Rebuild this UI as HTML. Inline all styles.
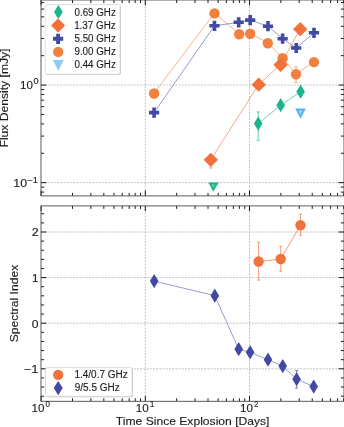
<!DOCTYPE html><html><head><meta charset="utf-8"><style>html,body{margin:0;padding:0;background:#fff;}svg{display:block;will-change:transform;}</style></head><body><svg width="344" height="427" viewBox="0 0 344 427">
<rect width="344" height="427" fill="#fff"/>
<line x1="145.30" y1="0.00" x2="145.30" y2="195.90" stroke="#b0b0b0" stroke-width="0.8" stroke-dasharray="1.9 1.3"/>
<line x1="249.50" y1="0.00" x2="249.50" y2="195.90" stroke="#b0b0b0" stroke-width="0.8" stroke-dasharray="1.9 1.3"/>
<line x1="41.00" y1="85.05" x2="344.00" y2="85.05" stroke="#b0b0b0" stroke-width="0.8" stroke-dasharray="1.9 1.3"/>
<line x1="41.00" y1="182.65" x2="344.00" y2="182.65" stroke="#b0b0b0" stroke-width="0.8" stroke-dasharray="1.9 1.3"/>
<path d="M258.20 123.60L280.70 105.20L300.60 91.70" fill="none" stroke="#1cb48a" stroke-width="1.0" stroke-opacity="0.6"/>
<line x1="258.20" y1="111.90" x2="258.20" y2="140.40" stroke="#1cb48a" stroke-width="0.9" stroke-opacity="0.75"/>
<line x1="256.60" y1="111.90" x2="259.80" y2="111.90" stroke="#1cb48a" stroke-width="0.9" stroke-opacity="0.75"/>
<line x1="256.60" y1="140.40" x2="259.80" y2="140.40" stroke="#1cb48a" stroke-width="0.9" stroke-opacity="0.75"/>
<path d="M258.20 116.50L262.50 123.60L258.20 130.70L253.90 123.60Z" fill="#1cb48a" fill-opacity="1.0"/>
<path d="M280.70 98.10L285.00 105.20L280.70 112.30L276.40 105.20Z" fill="#1cb48a" fill-opacity="1.0"/>
<path d="M300.60 84.60L304.90 91.70L300.60 98.80L296.30 91.70Z" fill="#1cb48a" fill-opacity="1.0"/>
<path d="M208.20 182.40H218.60L213.40 191.70Z" fill="#22b486"/>
<path d="M211.61 184.40H215.19L213.40 187.60Z" fill="#6fcfaa"/>
<path d="M154.10 93.20L214.50 13.10L239.20 34.00L250.20 33.50L267.80 42.90L282.60 58.00L296.00 74.00L314.00 61.80" fill="none" stroke="#f2803e" stroke-width="1.0" stroke-opacity="0.6"/>
<line x1="296.00" y1="67.00" x2="296.00" y2="82.40" stroke="#f2803e" stroke-width="0.9" stroke-opacity="0.75"/>
<line x1="294.40" y1="67.00" x2="297.60" y2="67.00" stroke="#f2803e" stroke-width="0.9" stroke-opacity="0.75"/>
<line x1="294.40" y1="82.40" x2="297.60" y2="82.40" stroke="#f2803e" stroke-width="0.9" stroke-opacity="0.75"/>
<circle cx="154.10" cy="93.50" r="5.2" fill="#f2803e" fill-opacity="1.0"/>
<circle cx="214.50" cy="13.40" r="5.2" fill="#f2803e" fill-opacity="1.0"/>
<circle cx="239.20" cy="34.30" r="5.2" fill="#f2803e" fill-opacity="1.0"/>
<circle cx="250.20" cy="33.80" r="5.2" fill="#f2803e" fill-opacity="1.0"/>
<circle cx="267.80" cy="43.20" r="5.2" fill="#f2803e" fill-opacity="1.0"/>
<circle cx="282.60" cy="58.30" r="5.2" fill="#f2803e" fill-opacity="1.0"/>
<circle cx="296.00" cy="74.30" r="5.2" fill="#f2803e" fill-opacity="1.0"/>
<circle cx="314.00" cy="62.10" r="5.2" fill="#f2803e" fill-opacity="1.0"/>
<path d="M210.80 159.70L258.70 84.50L280.60 64.60L300.20 29.00" fill="none" stroke="#f2703a" stroke-width="1.0" stroke-opacity="0.6"/>
<line x1="210.80" y1="159.70" x2="210.80" y2="168.00" stroke="#f2703a" stroke-width="0.9" stroke-opacity="0.75"/>
<line x1="209.20" y1="159.70" x2="212.40" y2="159.70" stroke="#f2703a" stroke-width="0.9" stroke-opacity="0.75"/>
<line x1="209.20" y1="168.00" x2="212.40" y2="168.00" stroke="#f2703a" stroke-width="0.9" stroke-opacity="0.75"/>
<path d="M210.80 152.65L218.00 159.85L210.80 167.05L203.60 159.85Z" fill="#f2703a" fill-opacity="1.0"/>
<path d="M258.70 77.45L265.90 84.65L258.70 91.85L251.50 84.65Z" fill="#f2703a" fill-opacity="1.0"/>
<path d="M280.60 57.55L287.80 64.75L280.60 71.95L273.40 64.75Z" fill="#f2703a" fill-opacity="1.0"/>
<path d="M300.20 21.95L307.40 29.15L300.20 36.35L293.00 29.15Z" fill="#f2703a" fill-opacity="1.0"/>
<path d="M154.10 112.60L214.50 25.80L238.70 22.30L250.20 20.10L268.00 26.20L282.60 38.70L296.20 48.00L314.00 32.80" fill="none" stroke="#4249a3" stroke-width="1.0" stroke-opacity="0.55"/>
<path d="M152.30 107.50H155.90V110.80H159.20V114.40H155.90V117.70H152.30V114.40H149.00V110.80H152.30Z" fill="#4249a3" fill-opacity="1.0"/>
<path d="M212.70 20.70H216.30V24.00H219.60V27.60H216.30V30.90H212.70V27.60H209.40V24.00H212.70Z" fill="#4249a3" fill-opacity="1.0"/>
<path d="M236.90 17.20H240.50V20.50H243.80V24.10H240.50V27.40H236.90V24.10H233.60V20.50H236.90Z" fill="#4249a3" fill-opacity="1.0"/>
<path d="M248.40 15.00H252.00V18.30H255.30V21.90H252.00V25.20H248.40V21.90H245.10V18.30H248.40Z" fill="#4249a3" fill-opacity="1.0"/>
<path d="M266.20 21.10H269.80V24.40H273.10V28.00H269.80V31.30H266.20V28.00H262.90V24.40H266.20Z" fill="#4249a3" fill-opacity="1.0"/>
<path d="M280.80 33.60H284.40V36.90H287.70V40.50H284.40V43.80H280.80V40.50H277.50V36.90H280.80Z" fill="#4249a3" fill-opacity="1.0"/>
<path d="M294.40 42.90H298.00V46.20H301.30V49.80H298.00V53.10H294.40V49.80H291.10V46.20H294.40Z" fill="#4249a3" fill-opacity="1.0"/>
<path d="M312.20 27.70H315.80V31.00H319.10V34.60H315.80V37.90H312.20V34.60H308.90V31.00H312.20Z" fill="#4249a3" fill-opacity="1.0"/>
<path d="M295.25 108.40H305.85L300.55 118.80Z" fill="#52b4ea"/>
<path d="M298.51 110.40H302.59L300.55 114.40Z" fill="#a2d6f4"/>
<line x1="41.10" y1="195.90" x2="41.10" y2="190.60" stroke="#000" stroke-width="0.9" />
<line x1="41.10" y1="0.00" x2="41.10" y2="5.30" stroke="#000" stroke-width="0.9" />
<line x1="72.47" y1="195.90" x2="72.47" y2="192.90" stroke="#000" stroke-width="0.9" />
<line x1="72.47" y1="0.00" x2="72.47" y2="3.00" stroke="#000" stroke-width="0.9" />
<line x1="90.82" y1="195.90" x2="90.82" y2="192.90" stroke="#000" stroke-width="0.9" />
<line x1="90.82" y1="0.00" x2="90.82" y2="3.00" stroke="#000" stroke-width="0.9" />
<line x1="103.83" y1="195.90" x2="103.83" y2="192.90" stroke="#000" stroke-width="0.9" />
<line x1="103.83" y1="0.00" x2="103.83" y2="3.00" stroke="#000" stroke-width="0.9" />
<line x1="113.93" y1="195.90" x2="113.93" y2="192.90" stroke="#000" stroke-width="0.9" />
<line x1="113.93" y1="0.00" x2="113.93" y2="3.00" stroke="#000" stroke-width="0.9" />
<line x1="122.18" y1="195.90" x2="122.18" y2="192.90" stroke="#000" stroke-width="0.9" />
<line x1="122.18" y1="0.00" x2="122.18" y2="3.00" stroke="#000" stroke-width="0.9" />
<line x1="129.16" y1="195.90" x2="129.16" y2="192.90" stroke="#000" stroke-width="0.9" />
<line x1="129.16" y1="0.00" x2="129.16" y2="3.00" stroke="#000" stroke-width="0.9" />
<line x1="135.20" y1="195.90" x2="135.20" y2="192.90" stroke="#000" stroke-width="0.9" />
<line x1="135.20" y1="0.00" x2="135.20" y2="3.00" stroke="#000" stroke-width="0.9" />
<line x1="140.53" y1="195.90" x2="140.53" y2="192.90" stroke="#000" stroke-width="0.9" />
<line x1="140.53" y1="0.00" x2="140.53" y2="3.00" stroke="#000" stroke-width="0.9" />
<line x1="145.30" y1="195.90" x2="145.30" y2="190.60" stroke="#000" stroke-width="0.9" />
<line x1="145.30" y1="0.00" x2="145.30" y2="5.30" stroke="#000" stroke-width="0.9" />
<line x1="176.67" y1="195.90" x2="176.67" y2="192.90" stroke="#000" stroke-width="0.9" />
<line x1="176.67" y1="0.00" x2="176.67" y2="3.00" stroke="#000" stroke-width="0.9" />
<line x1="195.02" y1="195.90" x2="195.02" y2="192.90" stroke="#000" stroke-width="0.9" />
<line x1="195.02" y1="0.00" x2="195.02" y2="3.00" stroke="#000" stroke-width="0.9" />
<line x1="208.03" y1="195.90" x2="208.03" y2="192.90" stroke="#000" stroke-width="0.9" />
<line x1="208.03" y1="0.00" x2="208.03" y2="3.00" stroke="#000" stroke-width="0.9" />
<line x1="218.13" y1="195.90" x2="218.13" y2="192.90" stroke="#000" stroke-width="0.9" />
<line x1="218.13" y1="0.00" x2="218.13" y2="3.00" stroke="#000" stroke-width="0.9" />
<line x1="226.38" y1="195.90" x2="226.38" y2="192.90" stroke="#000" stroke-width="0.9" />
<line x1="226.38" y1="0.00" x2="226.38" y2="3.00" stroke="#000" stroke-width="0.9" />
<line x1="233.36" y1="195.90" x2="233.36" y2="192.90" stroke="#000" stroke-width="0.9" />
<line x1="233.36" y1="0.00" x2="233.36" y2="3.00" stroke="#000" stroke-width="0.9" />
<line x1="239.40" y1="195.90" x2="239.40" y2="192.90" stroke="#000" stroke-width="0.9" />
<line x1="239.40" y1="0.00" x2="239.40" y2="3.00" stroke="#000" stroke-width="0.9" />
<line x1="244.73" y1="195.90" x2="244.73" y2="192.90" stroke="#000" stroke-width="0.9" />
<line x1="244.73" y1="0.00" x2="244.73" y2="3.00" stroke="#000" stroke-width="0.9" />
<line x1="249.50" y1="195.90" x2="249.50" y2="190.60" stroke="#000" stroke-width="0.9" />
<line x1="249.50" y1="0.00" x2="249.50" y2="5.30" stroke="#000" stroke-width="0.9" />
<line x1="280.87" y1="195.90" x2="280.87" y2="192.90" stroke="#000" stroke-width="0.9" />
<line x1="280.87" y1="0.00" x2="280.87" y2="3.00" stroke="#000" stroke-width="0.9" />
<line x1="299.22" y1="195.90" x2="299.22" y2="192.90" stroke="#000" stroke-width="0.9" />
<line x1="299.22" y1="0.00" x2="299.22" y2="3.00" stroke="#000" stroke-width="0.9" />
<line x1="312.23" y1="195.90" x2="312.23" y2="192.90" stroke="#000" stroke-width="0.9" />
<line x1="312.23" y1="0.00" x2="312.23" y2="3.00" stroke="#000" stroke-width="0.9" />
<line x1="322.33" y1="195.90" x2="322.33" y2="192.90" stroke="#000" stroke-width="0.9" />
<line x1="322.33" y1="0.00" x2="322.33" y2="3.00" stroke="#000" stroke-width="0.9" />
<line x1="330.58" y1="195.90" x2="330.58" y2="192.90" stroke="#000" stroke-width="0.9" />
<line x1="330.58" y1="0.00" x2="330.58" y2="3.00" stroke="#000" stroke-width="0.9" />
<line x1="337.56" y1="195.90" x2="337.56" y2="192.90" stroke="#000" stroke-width="0.9" />
<line x1="337.56" y1="0.00" x2="337.56" y2="3.00" stroke="#000" stroke-width="0.9" />
<line x1="343.60" y1="195.90" x2="343.60" y2="192.90" stroke="#000" stroke-width="0.9" />
<line x1="343.60" y1="0.00" x2="343.60" y2="3.00" stroke="#000" stroke-width="0.9" />
<line x1="41.00" y1="85.05" x2="46.40" y2="85.05" stroke="#000" stroke-width="0.9" />
<line x1="344.00" y1="85.05" x2="338.60" y2="85.05" stroke="#000" stroke-width="0.9" />
<line x1="41.00" y1="182.65" x2="46.40" y2="182.65" stroke="#000" stroke-width="0.9" />
<line x1="344.00" y1="182.65" x2="338.60" y2="182.65" stroke="#000" stroke-width="0.9" />
<line x1="41.00" y1="192.11" x2="44.10" y2="192.11" stroke="#000" stroke-width="0.9" />
<line x1="344.00" y1="192.11" x2="340.90" y2="192.11" stroke="#000" stroke-width="0.9" />
<line x1="41.00" y1="187.12" x2="44.10" y2="187.12" stroke="#000" stroke-width="0.9" />
<line x1="344.00" y1="187.12" x2="340.90" y2="187.12" stroke="#000" stroke-width="0.9" />
<line x1="41.00" y1="153.27" x2="44.10" y2="153.27" stroke="#000" stroke-width="0.9" />
<line x1="344.00" y1="153.27" x2="340.90" y2="153.27" stroke="#000" stroke-width="0.9" />
<line x1="41.00" y1="136.08" x2="44.10" y2="136.08" stroke="#000" stroke-width="0.9" />
<line x1="344.00" y1="136.08" x2="340.90" y2="136.08" stroke="#000" stroke-width="0.9" />
<line x1="41.00" y1="123.89" x2="44.10" y2="123.89" stroke="#000" stroke-width="0.9" />
<line x1="344.00" y1="123.89" x2="340.90" y2="123.89" stroke="#000" stroke-width="0.9" />
<line x1="41.00" y1="114.43" x2="44.10" y2="114.43" stroke="#000" stroke-width="0.9" />
<line x1="344.00" y1="114.43" x2="340.90" y2="114.43" stroke="#000" stroke-width="0.9" />
<line x1="41.00" y1="106.70" x2="44.10" y2="106.70" stroke="#000" stroke-width="0.9" />
<line x1="344.00" y1="106.70" x2="340.90" y2="106.70" stroke="#000" stroke-width="0.9" />
<line x1="41.00" y1="100.17" x2="44.10" y2="100.17" stroke="#000" stroke-width="0.9" />
<line x1="344.00" y1="100.17" x2="340.90" y2="100.17" stroke="#000" stroke-width="0.9" />
<line x1="41.00" y1="94.51" x2="44.10" y2="94.51" stroke="#000" stroke-width="0.9" />
<line x1="344.00" y1="94.51" x2="340.90" y2="94.51" stroke="#000" stroke-width="0.9" />
<line x1="41.00" y1="89.52" x2="44.10" y2="89.52" stroke="#000" stroke-width="0.9" />
<line x1="344.00" y1="89.52" x2="340.90" y2="89.52" stroke="#000" stroke-width="0.9" />
<line x1="41.00" y1="55.67" x2="44.10" y2="55.67" stroke="#000" stroke-width="0.9" />
<line x1="344.00" y1="55.67" x2="340.90" y2="55.67" stroke="#000" stroke-width="0.9" />
<line x1="41.00" y1="38.48" x2="44.10" y2="38.48" stroke="#000" stroke-width="0.9" />
<line x1="344.00" y1="38.48" x2="340.90" y2="38.48" stroke="#000" stroke-width="0.9" />
<line x1="41.00" y1="26.29" x2="44.10" y2="26.29" stroke="#000" stroke-width="0.9" />
<line x1="344.00" y1="26.29" x2="340.90" y2="26.29" stroke="#000" stroke-width="0.9" />
<line x1="41.00" y1="16.83" x2="44.10" y2="16.83" stroke="#000" stroke-width="0.9" />
<line x1="344.00" y1="16.83" x2="340.90" y2="16.83" stroke="#000" stroke-width="0.9" />
<line x1="41.00" y1="9.10" x2="44.10" y2="9.10" stroke="#000" stroke-width="0.9" />
<line x1="344.00" y1="9.10" x2="340.90" y2="9.10" stroke="#000" stroke-width="0.9" />
<line x1="41.00" y1="2.57" x2="44.10" y2="2.57" stroke="#000" stroke-width="0.9" />
<line x1="344.00" y1="2.57" x2="340.90" y2="2.57" stroke="#000" stroke-width="0.9" />
<line x1="145.30" y1="205.90" x2="145.30" y2="401.30" stroke="#b0b0b0" stroke-width="0.8" stroke-dasharray="1.9 1.3"/>
<line x1="249.50" y1="205.90" x2="249.50" y2="401.30" stroke="#b0b0b0" stroke-width="0.8" stroke-dasharray="1.9 1.3"/>
<line x1="41.00" y1="232.00" x2="344.00" y2="232.00" stroke="#b0b0b0" stroke-width="0.8" stroke-dasharray="1.9 1.3"/>
<line x1="41.00" y1="277.60" x2="344.00" y2="277.60" stroke="#b0b0b0" stroke-width="0.8" stroke-dasharray="1.9 1.3"/>
<line x1="41.00" y1="323.20" x2="344.00" y2="323.20" stroke="#b0b0b0" stroke-width="0.8" stroke-dasharray="1.9 1.3"/>
<line x1="41.00" y1="368.80" x2="344.00" y2="368.80" stroke="#b0b0b0" stroke-width="0.8" stroke-dasharray="1.9 1.3"/>
<path d="M154.20 281.10L214.80 295.70L238.70 349.20L250.10 352.30L268.00 359.70L282.70 366.10L296.60 379.20L313.70 386.60" fill="none" stroke="#4249a3" stroke-width="1.0" stroke-opacity="0.55"/>
<path d="M258.60 261.50L280.70 259.00L300.50 225.20" fill="none" stroke="#f1723c" stroke-width="1.0" stroke-opacity="0.7"/>
<line x1="258.60" y1="242.20" x2="258.60" y2="280.10" stroke="#f1723c" stroke-width="0.9" stroke-opacity="0.75"/>
<line x1="257.00" y1="242.20" x2="260.20" y2="242.20" stroke="#f1723c" stroke-width="0.9" stroke-opacity="0.75"/>
<line x1="257.00" y1="280.10" x2="260.20" y2="280.10" stroke="#f1723c" stroke-width="0.9" stroke-opacity="0.75"/>
<line x1="280.70" y1="246.40" x2="280.70" y2="271.30" stroke="#f1723c" stroke-width="0.9" stroke-opacity="0.75"/>
<line x1="279.10" y1="246.40" x2="282.30" y2="246.40" stroke="#f1723c" stroke-width="0.9" stroke-opacity="0.75"/>
<line x1="279.10" y1="271.30" x2="282.30" y2="271.30" stroke="#f1723c" stroke-width="0.9" stroke-opacity="0.75"/>
<line x1="300.50" y1="214.30" x2="300.50" y2="235.20" stroke="#f1723c" stroke-width="0.9" stroke-opacity="0.75"/>
<line x1="298.90" y1="214.30" x2="302.10" y2="214.30" stroke="#f1723c" stroke-width="0.9" stroke-opacity="0.75"/>
<line x1="298.90" y1="235.20" x2="302.10" y2="235.20" stroke="#f1723c" stroke-width="0.9" stroke-opacity="0.75"/>
<line x1="296.60" y1="370.50" x2="296.60" y2="388.00" stroke="#4249a3" stroke-width="0.9" stroke-opacity="0.75"/>
<line x1="295.00" y1="370.50" x2="298.20" y2="370.50" stroke="#4249a3" stroke-width="0.9" stroke-opacity="0.75"/>
<line x1="295.00" y1="388.00" x2="298.20" y2="388.00" stroke="#4249a3" stroke-width="0.9" stroke-opacity="0.75"/>
<path d="M154.20 274.00L158.50 281.10L154.20 288.20L149.90 281.10Z" fill="#4249a3" fill-opacity="1.0"/>
<path d="M214.80 288.60L219.10 295.70L214.80 302.80L210.50 295.70Z" fill="#4249a3" fill-opacity="1.0"/>
<path d="M238.70 342.10L243.00 349.20L238.70 356.30L234.40 349.20Z" fill="#4249a3" fill-opacity="1.0"/>
<path d="M250.10 345.20L254.40 352.30L250.10 359.40L245.80 352.30Z" fill="#4249a3" fill-opacity="1.0"/>
<path d="M268.00 352.60L272.30 359.70L268.00 366.80L263.70 359.70Z" fill="#4249a3" fill-opacity="1.0"/>
<path d="M282.70 359.00L287.00 366.10L282.70 373.20L278.40 366.10Z" fill="#4249a3" fill-opacity="1.0"/>
<path d="M296.60 372.10L300.90 379.20L296.60 386.30L292.30 379.20Z" fill="#4249a3" fill-opacity="1.0"/>
<path d="M313.70 379.50L318.00 386.60L313.70 393.70L309.40 386.60Z" fill="#4249a3" fill-opacity="1.0"/>
<circle cx="258.60" cy="261.50" r="5.2" fill="#f1723c" fill-opacity="1.0"/>
<circle cx="280.70" cy="259.00" r="5.2" fill="#f1723c" fill-opacity="1.0"/>
<circle cx="300.50" cy="225.20" r="5.2" fill="#f1723c" fill-opacity="1.0"/>
<line x1="41.10" y1="401.30" x2="41.10" y2="396.00" stroke="#000" stroke-width="0.9" />
<line x1="41.10" y1="205.90" x2="41.10" y2="211.20" stroke="#000" stroke-width="0.9" />
<line x1="72.47" y1="401.30" x2="72.47" y2="398.30" stroke="#000" stroke-width="0.9" />
<line x1="72.47" y1="205.90" x2="72.47" y2="208.90" stroke="#000" stroke-width="0.9" />
<line x1="90.82" y1="401.30" x2="90.82" y2="398.30" stroke="#000" stroke-width="0.9" />
<line x1="90.82" y1="205.90" x2="90.82" y2="208.90" stroke="#000" stroke-width="0.9" />
<line x1="103.83" y1="401.30" x2="103.83" y2="398.30" stroke="#000" stroke-width="0.9" />
<line x1="103.83" y1="205.90" x2="103.83" y2="208.90" stroke="#000" stroke-width="0.9" />
<line x1="113.93" y1="401.30" x2="113.93" y2="398.30" stroke="#000" stroke-width="0.9" />
<line x1="113.93" y1="205.90" x2="113.93" y2="208.90" stroke="#000" stroke-width="0.9" />
<line x1="122.18" y1="401.30" x2="122.18" y2="398.30" stroke="#000" stroke-width="0.9" />
<line x1="122.18" y1="205.90" x2="122.18" y2="208.90" stroke="#000" stroke-width="0.9" />
<line x1="129.16" y1="401.30" x2="129.16" y2="398.30" stroke="#000" stroke-width="0.9" />
<line x1="129.16" y1="205.90" x2="129.16" y2="208.90" stroke="#000" stroke-width="0.9" />
<line x1="135.20" y1="401.30" x2="135.20" y2="398.30" stroke="#000" stroke-width="0.9" />
<line x1="135.20" y1="205.90" x2="135.20" y2="208.90" stroke="#000" stroke-width="0.9" />
<line x1="140.53" y1="401.30" x2="140.53" y2="398.30" stroke="#000" stroke-width="0.9" />
<line x1="140.53" y1="205.90" x2="140.53" y2="208.90" stroke="#000" stroke-width="0.9" />
<line x1="145.30" y1="401.30" x2="145.30" y2="396.00" stroke="#000" stroke-width="0.9" />
<line x1="145.30" y1="205.90" x2="145.30" y2="211.20" stroke="#000" stroke-width="0.9" />
<line x1="176.67" y1="401.30" x2="176.67" y2="398.30" stroke="#000" stroke-width="0.9" />
<line x1="176.67" y1="205.90" x2="176.67" y2="208.90" stroke="#000" stroke-width="0.9" />
<line x1="195.02" y1="401.30" x2="195.02" y2="398.30" stroke="#000" stroke-width="0.9" />
<line x1="195.02" y1="205.90" x2="195.02" y2="208.90" stroke="#000" stroke-width="0.9" />
<line x1="208.03" y1="401.30" x2="208.03" y2="398.30" stroke="#000" stroke-width="0.9" />
<line x1="208.03" y1="205.90" x2="208.03" y2="208.90" stroke="#000" stroke-width="0.9" />
<line x1="218.13" y1="401.30" x2="218.13" y2="398.30" stroke="#000" stroke-width="0.9" />
<line x1="218.13" y1="205.90" x2="218.13" y2="208.90" stroke="#000" stroke-width="0.9" />
<line x1="226.38" y1="401.30" x2="226.38" y2="398.30" stroke="#000" stroke-width="0.9" />
<line x1="226.38" y1="205.90" x2="226.38" y2="208.90" stroke="#000" stroke-width="0.9" />
<line x1="233.36" y1="401.30" x2="233.36" y2="398.30" stroke="#000" stroke-width="0.9" />
<line x1="233.36" y1="205.90" x2="233.36" y2="208.90" stroke="#000" stroke-width="0.9" />
<line x1="239.40" y1="401.30" x2="239.40" y2="398.30" stroke="#000" stroke-width="0.9" />
<line x1="239.40" y1="205.90" x2="239.40" y2="208.90" stroke="#000" stroke-width="0.9" />
<line x1="244.73" y1="401.30" x2="244.73" y2="398.30" stroke="#000" stroke-width="0.9" />
<line x1="244.73" y1="205.90" x2="244.73" y2="208.90" stroke="#000" stroke-width="0.9" />
<line x1="249.50" y1="401.30" x2="249.50" y2="396.00" stroke="#000" stroke-width="0.9" />
<line x1="249.50" y1="205.90" x2="249.50" y2="211.20" stroke="#000" stroke-width="0.9" />
<line x1="280.87" y1="401.30" x2="280.87" y2="398.30" stroke="#000" stroke-width="0.9" />
<line x1="280.87" y1="205.90" x2="280.87" y2="208.90" stroke="#000" stroke-width="0.9" />
<line x1="299.22" y1="401.30" x2="299.22" y2="398.30" stroke="#000" stroke-width="0.9" />
<line x1="299.22" y1="205.90" x2="299.22" y2="208.90" stroke="#000" stroke-width="0.9" />
<line x1="312.23" y1="401.30" x2="312.23" y2="398.30" stroke="#000" stroke-width="0.9" />
<line x1="312.23" y1="205.90" x2="312.23" y2="208.90" stroke="#000" stroke-width="0.9" />
<line x1="322.33" y1="401.30" x2="322.33" y2="398.30" stroke="#000" stroke-width="0.9" />
<line x1="322.33" y1="205.90" x2="322.33" y2="208.90" stroke="#000" stroke-width="0.9" />
<line x1="330.58" y1="401.30" x2="330.58" y2="398.30" stroke="#000" stroke-width="0.9" />
<line x1="330.58" y1="205.90" x2="330.58" y2="208.90" stroke="#000" stroke-width="0.9" />
<line x1="337.56" y1="401.30" x2="337.56" y2="398.30" stroke="#000" stroke-width="0.9" />
<line x1="337.56" y1="205.90" x2="337.56" y2="208.90" stroke="#000" stroke-width="0.9" />
<line x1="343.60" y1="401.30" x2="343.60" y2="398.30" stroke="#000" stroke-width="0.9" />
<line x1="343.60" y1="205.90" x2="343.60" y2="208.90" stroke="#000" stroke-width="0.9" />
<line x1="41.00" y1="232.00" x2="46.40" y2="232.00" stroke="#000" stroke-width="0.9" />
<line x1="344.00" y1="232.00" x2="338.60" y2="232.00" stroke="#000" stroke-width="0.9" />
<line x1="41.00" y1="277.60" x2="46.40" y2="277.60" stroke="#000" stroke-width="0.9" />
<line x1="344.00" y1="277.60" x2="338.60" y2="277.60" stroke="#000" stroke-width="0.9" />
<line x1="41.00" y1="323.20" x2="46.40" y2="323.20" stroke="#000" stroke-width="0.9" />
<line x1="344.00" y1="323.20" x2="338.60" y2="323.20" stroke="#000" stroke-width="0.9" />
<line x1="41.00" y1="368.80" x2="46.40" y2="368.80" stroke="#000" stroke-width="0.9" />
<line x1="344.00" y1="368.80" x2="338.60" y2="368.80" stroke="#000" stroke-width="0.9" />
<line x1="41.00" y1="396.16" x2="44.10" y2="396.16" stroke="#000" stroke-width="0.9" />
<line x1="344.00" y1="396.16" x2="340.90" y2="396.16" stroke="#000" stroke-width="0.9" />
<line x1="41.00" y1="387.04" x2="44.10" y2="387.04" stroke="#000" stroke-width="0.9" />
<line x1="344.00" y1="387.04" x2="340.90" y2="387.04" stroke="#000" stroke-width="0.9" />
<line x1="41.00" y1="377.92" x2="44.10" y2="377.92" stroke="#000" stroke-width="0.9" />
<line x1="344.00" y1="377.92" x2="340.90" y2="377.92" stroke="#000" stroke-width="0.9" />
<line x1="41.00" y1="359.68" x2="44.10" y2="359.68" stroke="#000" stroke-width="0.9" />
<line x1="344.00" y1="359.68" x2="340.90" y2="359.68" stroke="#000" stroke-width="0.9" />
<line x1="41.00" y1="350.56" x2="44.10" y2="350.56" stroke="#000" stroke-width="0.9" />
<line x1="344.00" y1="350.56" x2="340.90" y2="350.56" stroke="#000" stroke-width="0.9" />
<line x1="41.00" y1="341.44" x2="44.10" y2="341.44" stroke="#000" stroke-width="0.9" />
<line x1="344.00" y1="341.44" x2="340.90" y2="341.44" stroke="#000" stroke-width="0.9" />
<line x1="41.00" y1="332.32" x2="44.10" y2="332.32" stroke="#000" stroke-width="0.9" />
<line x1="344.00" y1="332.32" x2="340.90" y2="332.32" stroke="#000" stroke-width="0.9" />
<line x1="41.00" y1="314.08" x2="44.10" y2="314.08" stroke="#000" stroke-width="0.9" />
<line x1="344.00" y1="314.08" x2="340.90" y2="314.08" stroke="#000" stroke-width="0.9" />
<line x1="41.00" y1="304.96" x2="44.10" y2="304.96" stroke="#000" stroke-width="0.9" />
<line x1="344.00" y1="304.96" x2="340.90" y2="304.96" stroke="#000" stroke-width="0.9" />
<line x1="41.00" y1="295.84" x2="44.10" y2="295.84" stroke="#000" stroke-width="0.9" />
<line x1="344.00" y1="295.84" x2="340.90" y2="295.84" stroke="#000" stroke-width="0.9" />
<line x1="41.00" y1="286.72" x2="44.10" y2="286.72" stroke="#000" stroke-width="0.9" />
<line x1="344.00" y1="286.72" x2="340.90" y2="286.72" stroke="#000" stroke-width="0.9" />
<line x1="41.00" y1="268.48" x2="44.10" y2="268.48" stroke="#000" stroke-width="0.9" />
<line x1="344.00" y1="268.48" x2="340.90" y2="268.48" stroke="#000" stroke-width="0.9" />
<line x1="41.00" y1="259.36" x2="44.10" y2="259.36" stroke="#000" stroke-width="0.9" />
<line x1="344.00" y1="259.36" x2="340.90" y2="259.36" stroke="#000" stroke-width="0.9" />
<line x1="41.00" y1="250.24" x2="44.10" y2="250.24" stroke="#000" stroke-width="0.9" />
<line x1="344.00" y1="250.24" x2="340.90" y2="250.24" stroke="#000" stroke-width="0.9" />
<line x1="41.00" y1="241.12" x2="44.10" y2="241.12" stroke="#000" stroke-width="0.9" />
<line x1="344.00" y1="241.12" x2="340.90" y2="241.12" stroke="#000" stroke-width="0.9" />
<line x1="41.00" y1="222.88" x2="44.10" y2="222.88" stroke="#000" stroke-width="0.9" />
<line x1="344.00" y1="222.88" x2="340.90" y2="222.88" stroke="#000" stroke-width="0.9" />
<line x1="41.00" y1="213.76" x2="44.10" y2="213.76" stroke="#000" stroke-width="0.9" />
<line x1="344.00" y1="213.76" x2="340.90" y2="213.76" stroke="#000" stroke-width="0.9" />
<rect x="41.00" y="0.00" width="303.00" height="195.90" fill="none" stroke="#4a4a4a" stroke-width="0.9"/>
<rect x="41.00" y="205.90" width="303.00" height="195.40" fill="none" stroke="#4a4a4a" stroke-width="0.9"/>
<rect x="46.10" y="5.30" width="74.70" height="69.70" rx="2" fill="#000" fill-opacity="0.25"/>
<rect x="45.30" y="4.50" width="74.70" height="69.70" rx="2" fill="#fff" stroke="#d6d6d6" stroke-width="0.8"/>
<path d="M58.40 5.10L62.80 12.00L58.40 18.90L54.00 12.00Z" fill="#1cb48a" fill-opacity="1.0"/>
<path d="M58.10 18.45L65.15 25.50L58.10 32.55L51.05 25.50Z" fill="#f2703a" fill-opacity="1.0"/>
<path d="M56.15 33.70H60.05V36.85H63.20V40.75H60.05V43.90H56.15V40.75H53.00V36.85H56.15Z" fill="#4249a3" fill-opacity="1.0"/>
<circle cx="58.20" cy="51.90" r="5.2" fill="#f2803e" fill-opacity="1.0"/>
<path d="M52.90 60.10H63.70L58.30 70.90Z" fill="#8ecdf3" fill-opacity="1.0"/>
<text x="74.52" y="15.60" font-family="Liberation Sans, sans-serif" font-size="10.0" fill="#1a1a1a" stroke="#1a1a1a" stroke-width="0.12" textLength="41.27" lengthAdjust="spacingAndGlyphs">0.69 GHz</text>
<text x="74.15" y="28.70" font-family="Liberation Sans, sans-serif" font-size="10.0" fill="#1a1a1a" stroke="#1a1a1a" stroke-width="0.12" textLength="41.64" lengthAdjust="spacingAndGlyphs">1.37 GHz</text>
<text x="74.51" y="41.80" font-family="Liberation Sans, sans-serif" font-size="10.0" fill="#1a1a1a" stroke="#1a1a1a" stroke-width="0.12" textLength="41.28" lengthAdjust="spacingAndGlyphs">5.50 GHz</text>
<text x="74.44" y="54.90" font-family="Liberation Sans, sans-serif" font-size="10.0" fill="#1a1a1a" stroke="#1a1a1a" stroke-width="0.12" textLength="41.35" lengthAdjust="spacingAndGlyphs">9.00 GHz</text>
<text x="74.52" y="68.00" font-family="Liberation Sans, sans-serif" font-size="10.0" fill="#1a1a1a" stroke="#1a1a1a" stroke-width="0.12" textLength="41.27" lengthAdjust="spacingAndGlyphs">0.44 GHz</text>
<rect x="46.30" y="368.40" width="86.50" height="28.80" rx="2" fill="#000" fill-opacity="0.25"/>
<rect x="45.50" y="367.60" width="86.50" height="28.80" rx="2" fill="#fff" stroke="#d6d6d6" stroke-width="0.8"/>
<circle cx="58.20" cy="374.85" r="5.2" fill="#f1723c" fill-opacity="1.0"/>
<path d="M58.20 381.00L62.70 388.10L58.20 395.20L53.70 388.10Z" fill="#4249a3" fill-opacity="1.0"/>
<text x="74.44" y="378.00" font-family="Liberation Sans, sans-serif" font-size="10.0" fill="#1a1a1a" stroke="#1a1a1a" stroke-width="0.12" textLength="53.26" lengthAdjust="spacingAndGlyphs">1.4/0.7 GHz</text>
<text x="74.73" y="391.30" font-family="Liberation Sans, sans-serif" font-size="10.0" fill="#1a1a1a" stroke="#1a1a1a" stroke-width="0.12" textLength="44.97" lengthAdjust="spacingAndGlyphs">9/5.5 GHz</text>
<text x="20.01" y="88.70" font-family="Liberation Sans, sans-serif" font-size="11.2" fill="#1a1a1a" stroke="#1a1a1a" stroke-width="0.12" textLength="12.94" lengthAdjust="spacingAndGlyphs">10</text>
<text x="33.44" y="84.40" font-family="Liberation Sans, sans-serif" font-size="8.6" fill="#1a1a1a" stroke="#1a1a1a" stroke-width="0.12" textLength="5.12" lengthAdjust="spacingAndGlyphs">0</text>
<text x="13.36" y="186.60" font-family="Liberation Sans, sans-serif" font-size="11.2" fill="#1a1a1a" stroke="#1a1a1a" stroke-width="0.12" textLength="13.72" lengthAdjust="spacingAndGlyphs">10</text>
<text x="27.44" y="182.50" font-family="Liberation Sans, sans-serif" font-size="8.4" fill="#1a1a1a" stroke="#1a1a1a" stroke-width="0.12" textLength="10.61" lengthAdjust="spacingAndGlyphs">−1</text>
<text x="31.77" y="236.30" font-family="Liberation Sans, sans-serif" font-size="11.2" fill="#1a1a1a" stroke="#1a1a1a" stroke-width="0.12" textLength="6.96" lengthAdjust="spacingAndGlyphs">2</text>
<text x="32.12" y="281.90" font-family="Liberation Sans, sans-serif" font-size="11.2" fill="#1a1a1a" stroke="#1a1a1a" stroke-width="0.12" textLength="6.45" lengthAdjust="spacingAndGlyphs">1</text>
<text x="31.83" y="327.60" font-family="Liberation Sans, sans-serif" font-size="11.2" fill="#1a1a1a" stroke="#1a1a1a" stroke-width="0.12" textLength="6.75" lengthAdjust="spacingAndGlyphs">0</text>
<text x="23.76" y="373.20" font-family="Liberation Sans, sans-serif" font-size="11.2" fill="#1a1a1a" stroke="#1a1a1a" stroke-width="0.12" textLength="14.77" lengthAdjust="spacingAndGlyphs">−1</text>
<text x="31.61" y="411.85" font-family="Liberation Sans, sans-serif" font-size="11.8" fill="#1a1a1a" stroke="#1a1a1a" stroke-width="0.12" textLength="12.94" lengthAdjust="spacingAndGlyphs">10</text>
<text x="45.39" y="407.20" font-family="Liberation Sans, sans-serif" font-size="8.6" fill="#1a1a1a" stroke="#1a1a1a" stroke-width="0.12" textLength="4.42" lengthAdjust="spacingAndGlyphs">0</text>
<text x="135.81" y="411.85" font-family="Liberation Sans, sans-serif" font-size="11.8" fill="#1a1a1a" stroke="#1a1a1a" stroke-width="0.12" textLength="12.94" lengthAdjust="spacingAndGlyphs">10</text>
<text x="150.02" y="407.20" font-family="Liberation Sans, sans-serif" font-size="8.6" fill="#1a1a1a" stroke="#1a1a1a" stroke-width="0.12" textLength="4.26" lengthAdjust="spacingAndGlyphs">1</text>
<text x="240.01" y="411.85" font-family="Liberation Sans, sans-serif" font-size="11.8" fill="#1a1a1a" stroke="#1a1a1a" stroke-width="0.12" textLength="12.94" lengthAdjust="spacingAndGlyphs">10</text>
<text x="254.14" y="407.20" font-family="Liberation Sans, sans-serif" font-size="8.6" fill="#1a1a1a" stroke="#1a1a1a" stroke-width="0.12" textLength="4.03" lengthAdjust="spacingAndGlyphs">2</text>
<text x="115.83" y="424.60" font-family="Liberation Sans, sans-serif" font-size="11.2" fill="#1a1a1a" stroke="#1a1a1a" stroke-width="0.12" textLength="153.63" lengthAdjust="spacingAndGlyphs">Time Since Explosion [Days]</text>
<text transform="translate(8.40,147.49) rotate(-90)" x="0" y="0" font-family="Liberation Sans, sans-serif" font-size="11.2" fill="#1a1a1a" stroke="#1a1a1a" stroke-width="0.12" textLength="98.96" lengthAdjust="spacingAndGlyphs">Flux Density [mJy]</text>
<text transform="translate(18.30,342.25) rotate(-90)" x="0" y="0" font-family="Liberation Sans, sans-serif" font-size="11.2" fill="#1a1a1a" stroke="#1a1a1a" stroke-width="0.12" textLength="77.48" lengthAdjust="spacingAndGlyphs">Spectral Index</text>
</svg></body></html>
